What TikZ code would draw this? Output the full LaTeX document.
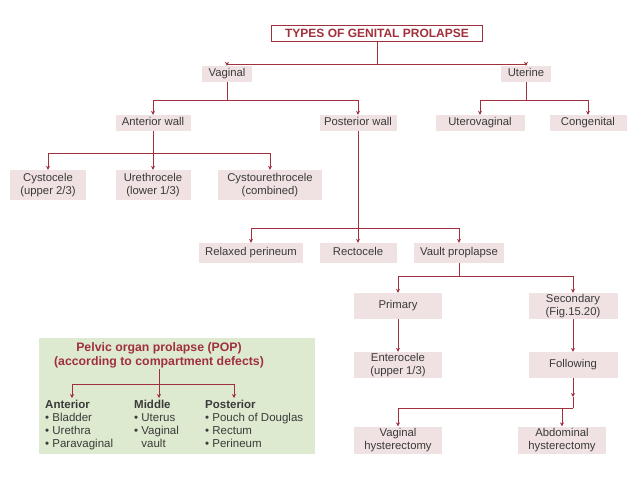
\documentclass[tikz,border=0pt]{standalone}
\usepackage{fontspec}
\setmainfont{Liberation Sans}
\usetikzlibrary{arrows.meta}
\definecolor{lnred}{HTML}{A0303C}
\definecolor{boxpink}{HTML}{F0E2E2}
\definecolor{txt}{HTML}{3A3A3A}
\definecolor{pgreen}{HTML}{DDEACF}
\tikzset{
 bx/.style={fill=boxpink,text=txt,inner sep=1pt,align=center,font=\fontsize{11.3}{13}\selectfont},
 one/.style={bx,text height=8.2pt,text depth=2.4pt},
 ln/.style={draw=lnred,line width=0.9pt},
 ar/.style={ln,-{Stealth[length=4pt,width=4pt]}},
 pt/.style={text=txt,align=left,anchor=north west,inner sep=0pt,font=\fontsize{11.5}{13}\selectfont}
}
\begin{document}
\begin{tikzpicture}[x=1pt,y=-1pt]
\useasboundingbox (0,0) rectangle (638,479);
\node[draw=lnred,line width=0.9pt,fill=white,text=lnred,font=\fontsize{12}{13}\selectfont\bfseries,minimum width=211,minimum height=16,inner sep=0pt,text height=8.5pt,text depth=0pt] (t) at (377,33) {TYPES OF GENITAL PROLAPSE};
\node[one,minimum width=50,minimum height=16] (vag) at (227,74) {Vaginal};
\node[one,minimum width=50,minimum height=16] (ute) at (526,74) {Uterine};
\node[one,minimum width=75,minimum height=16] (ant) at (153,123) {Anterior wall};
\node[one,minimum width=77,minimum height=16] (pos) at (358,123) {Posterior wall};
\node[one,minimum width=89,minimum height=16] (uv) at (480,123) {Uterovaginal};
\node[one,minimum width=77,minimum height=16] (con) at (588,123) {Congenital};
\node[bx,minimum width=76,minimum height=30] (cys) at (48,185) {Cystocele\\(upper 2/3)};
\node[bx,minimum width=75,minimum height=30] (ure) at (153,185) {Urethrocele\\(lower 1/3)};
\node[bx,minimum width=104,minimum height=30] (cu) at (270,185) {Cystourethrocele\\(combined)};
\node[one,minimum width=104,minimum height=20] (rp) at (251,253) {Relaxed perineum};
\node[one,minimum width=77,minimum height=20] (rec) at (358,253) {Rectocele};
\node[one,minimum width=90,minimum height=20] (vp) at (459,253) {Vault proplapse};
\node[one,minimum width=88,minimum height=26] (pri) at (398,306) {Primary};
\node[bx,minimum width=89,minimum height=26] (sec) at (573,306) {Secondary\\(Fig.15.20)};
\node[bx,minimum width=88,minimum height=26] (ent) at (398,365) {Enterocele\\(upper 1/3)};
\node[one,minimum width=89,minimum height=26] (fol) at (573,365) {Following};
\node[bx,minimum width=88,minimum height=27] (vh) at (398,440) {Vaginal\\hysterectomy};
\node[bx,minimum width=88,minimum height=27] (ah) at (562,440) {Abdominal\\hysterectomy};
% connectors
\draw[ln] (t.south) -- (377,64) coordinate (j1);
\draw[ar] (227,64) -| (vag.north);
\draw[ar] (j1) -| (ute.north);
\draw[ln] (227,64) -- (j1);
\draw[ln] (vag.south) -- (227,100) coordinate (j2);
\draw[ar] (j2) -| (ant.north);
\draw[ar] (j2) -| (pos.north);
\draw[ln] (ute.south) -- (526,100) coordinate (j3);
\draw[ar] (j3) -| (uv.north);
\draw[ar] (j3) -| (con.north);
\draw[ln] (ant.south) -- (153,153) coordinate (j4);
\draw[ar] (j4) -| (cys.north);
\draw[ar] (j4) -- (ure.north);
\draw[ar] (j4) -| (cu.north);
\draw[ln] (pos.south) -- (358,228) coordinate (j5);
\draw[ar] (j5) -| (rp.north);
\draw[ar] (j5) -- (rec.north);
\draw[ar] (j5) -| (vp.north);
\draw[ln] (vp.south) -- (459,276) coordinate (j6);
\draw[ar] (j6) -| (pri.north);
\draw[ar] (j6) -| (sec.north);
\draw[ar] (pri.south) -- (ent.north);
\draw[ar] (sec.south) -- (fol.north);
\draw[ar] (fol.south) -- (573,397);
\draw[ln] (573,397) -- (573,408) coordinate (j7);
\draw[ar] (j7) -| (vh.north);
\draw[ar] (562,408) -- (ah.north);
% green box
\node[fill=pgreen,minimum width=276,minimum height=116,inner sep=0pt] (g) at (177,396) {};
\node[text=lnred,font=\fontsize{12.3}{14}\selectfont\bfseries,align=center,inner sep=1pt] (gt) at (159,355) {Pelvic organ prolapse (POP)\\(according to compartment defects)};
\node[pt] (ca) at (45,400) {\textbf{Anterior}\\ • Bladder\\ • Urethra\\ • Paravaginal};
\node[pt] (cm) at (134,400) {\textbf{Middle}\\ • Uterus\\ • Vaginal\\ \phantom{• }vault};
\node[pt] (cp) at (205,400) {\textbf{Posterior}\\ • Pouch of Douglas\\ • Rectum\\ • Perineum};
\draw[ln] (gt.south) -- (159,384) coordinate (j8);
\draw[ar] (j8) -| (72,398);
\draw[ar] (j8) -- (159,398);
\draw[ar] (j8) -| (234,398);
\end{tikzpicture}
\end{document}
